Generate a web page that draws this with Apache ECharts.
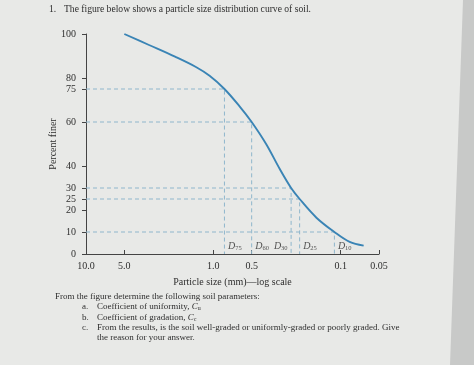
<!DOCTYPE html>
<html>
<head>
<meta charset="utf-8">
<script src="https://cdn.jsdelivr.net/npm/echarts@6/dist/echarts.min.js"></script>
<style>
html,body{margin:0;padding:0;background:#e8e9e7;}
#chart{width:474px;height:365px;}
</style>
</head>
<body>
<div id="chart"></div>
<script>
// Particle size (mm) and percent finer
const sizes = [5.0, 3.2, 2.0, 1.37, 1.07, 0.818, 0.62, 0.5, 0.385, 0.3, 0.245, 0.21, 0.155, 0.112, 0.085, 0.066];
const percentFiner = [100, 95, 89.7, 85, 81, 75, 67, 60, 50, 38.5, 30, 25, 16.5, 10, 5.5, 3.8];

// Axis ticks
const xTickValues = [10, 5, 1, 0.5, 0.1, 0.05];
const xTickLabels = ['10.0', '5.0', '1.0', '0.5', '0.1', '0.05'];
const yTickValues = [0, 10, 20, 25, 30, 40, 60, 75, 80, 100];

// Characteristic diameters
const dNames = ['75', '60', '30', '25', '10'];
const dLevels = [75, 60, 30, 25, 10];
const dSizes = [0.818, 0.5, 0.245, 0.21, 0.112];
const dLabelSide = ['right', 'right', 'left', 'right', 'right'];

const L = v => Math.log10(v);
const FONT = '"Liberation Serif", "DejaVu Serif", serif';
const TXT = '#2e2e2e';
const DASH = '#8fb6cc';

const chart = echarts.init(document.getElementById('chart'), null, {renderer: 'canvas'});

const series = [];
dSizes.forEach((s, i) => {
  series.push({
    type: 'line',
    data: [[L(xTickValues[0]), dLevels[i]], [L(s), dLevels[i]], [L(s), 0]],
    symbol: 'none',
    silent: true,
    z: 1,
    lineStyle: {color: DASH, width: 1, type: [4, 3]}
  });
});
const curveData = sizes.map((s, i) => [L(s), percentFiner[i]]);
series.push({
  type: 'line',
  data: curveData,
  smooth: 0.35,
  symbol: 'none',
  z: 3,
  lineStyle: {color: '#3a84b5', width: 1.9}
});
series.push({
  type: 'scatter',
  data: dSizes.map((s, i) => ({value: [L(s), 3.4], label: {position: dLabelSide[i]}, name: dNames[i]})),
  symbolSize: 1,
  itemStyle: {color: 'rgba(0,0,0,0)'},
  z: 4,
  label: {
    show: true,
    distance: 3,
    formatter: p => '{d|D}{s|' + p.name + '}',
    rich: {
      d: {fontFamily: FONT, fontStyle: 'italic', fontSize: 10, color: TXT},
      s: {fontFamily: FONT, fontSize: 6.5, color: TXT, verticalAlign: 'bottom', padding: [4, 0, 0, 0]}
    }
  }
});

const sub = {n: {font: '9px ' + FONT, fill: TXT}, c: {font: 'italic 9px ' + FONT, fill: TXT}, s: {font: '6px ' + FONT, fill: TXT, verticalAlign: 'bottom', padding: [3, 0, 0, 0]}};

const option = {
  backgroundColor: '#e8e9e7',
  animation: false,
  grid: {left: 86, right: 95, top: 34, bottom: 111},
  xAxis: {
    type: 'value',
    min: L(0.05),
    max: L(10),
    inverse: true,
    name: 'Particle size (mm)\u2014log scale',
    nameLocation: 'middle',
    nameGap: 23,
    nameMoveOverlap: false,
    nameTextStyle: {fontFamily: FONT, fontSize: 10, color: TXT},
    splitLine: {show: false},
    axisLine: {show: true, onZero: false, lineStyle: {color: '#444', width: 1}},
    axisTick: {show: true, inside: true, length: 4, lineStyle: {color: '#444'}, customValues: xTickValues.map(L)},
    axisLabel: {
      fontFamily: FONT, fontSize: 10, color: TXT, margin: 7,
      customValues: xTickValues.map(L),
      formatter: v => {
        let best = 0;
        xTickValues.forEach((t, i) => { if (Math.abs(L(t) - v) < Math.abs(L(xTickValues[best]) - v)) best = i; });
        return xTickLabels[best];
      }
    }
  },
  yAxis: {
    type: 'value',
    min: 0,
    max: 100,
    name: 'Percent finer',
    nameLocation: 'middle',
    nameGap: 28,
    nameMoveOverlap: false,
    nameTextStyle: {fontFamily: FONT, fontSize: 10, color: TXT},
    splitLine: {show: false},
    axisLine: {show: true, onZero: false, lineStyle: {color: '#444', width: 1}},
    axisTick: {show: true, length: 4, lineStyle: {color: '#444'}, customValues: yTickValues},
    axisLabel: {fontFamily: FONT, fontSize: 10, color: TXT, margin: 10, customValues: yTickValues}
  },
  series: series,
  graphic: [
    {type: 'polygon', silent: true, z: -1, shape: {points: [[463, 0], [474, 0], [474, 365], [450, 365]]}, style: {fill: '#c8c9c8'}},
    {type: 'text', left: 49, top: 4, style: {text: '1.', font: '9.6px ' + FONT, fill: TXT}},
    {type: 'text', left: 64, top: 4, style: {text: 'The figure below shows a particle size distribution curve of soil.', font: '9.6px ' + FONT, fill: TXT}},
    {type: 'text', left: 55, top: 292, style: {text: 'From the figure determine the following soil parameters:', font: '9px ' + FONT, fill: TXT}},
    {type: 'text', left: 82, top: 302, style: {text: 'a.', font: '9px ' + FONT, fill: TXT}},
    {type: 'text', left: 97, top: 302, style: {text: '{n|Coefficient of uniformity, }{c|C}{s|u}', rich: sub}},
    {type: 'text', left: 82, top: 313, style: {text: 'b.', font: '9px ' + FONT, fill: TXT}},
    {type: 'text', left: 97, top: 313, style: {text: '{n|Coefficient of gradation, }{c|C}{s|c}', rich: sub}},
    {type: 'text', left: 82, top: 323, style: {text: 'c.', font: '9px ' + FONT, fill: TXT}},
    {type: 'text', left: 97, top: 323, style: {text: 'From the results, is the soil well-graded or uniformly-graded or poorly graded. Give', font: '9px ' + FONT, fill: TXT}},
    {type: 'text', left: 97, top: 333, style: {text: 'the reason for your answer.', font: '9px ' + FONT, fill: TXT}}
  ]
};
chart.setOption(option);
</script>
</body>
</html>
